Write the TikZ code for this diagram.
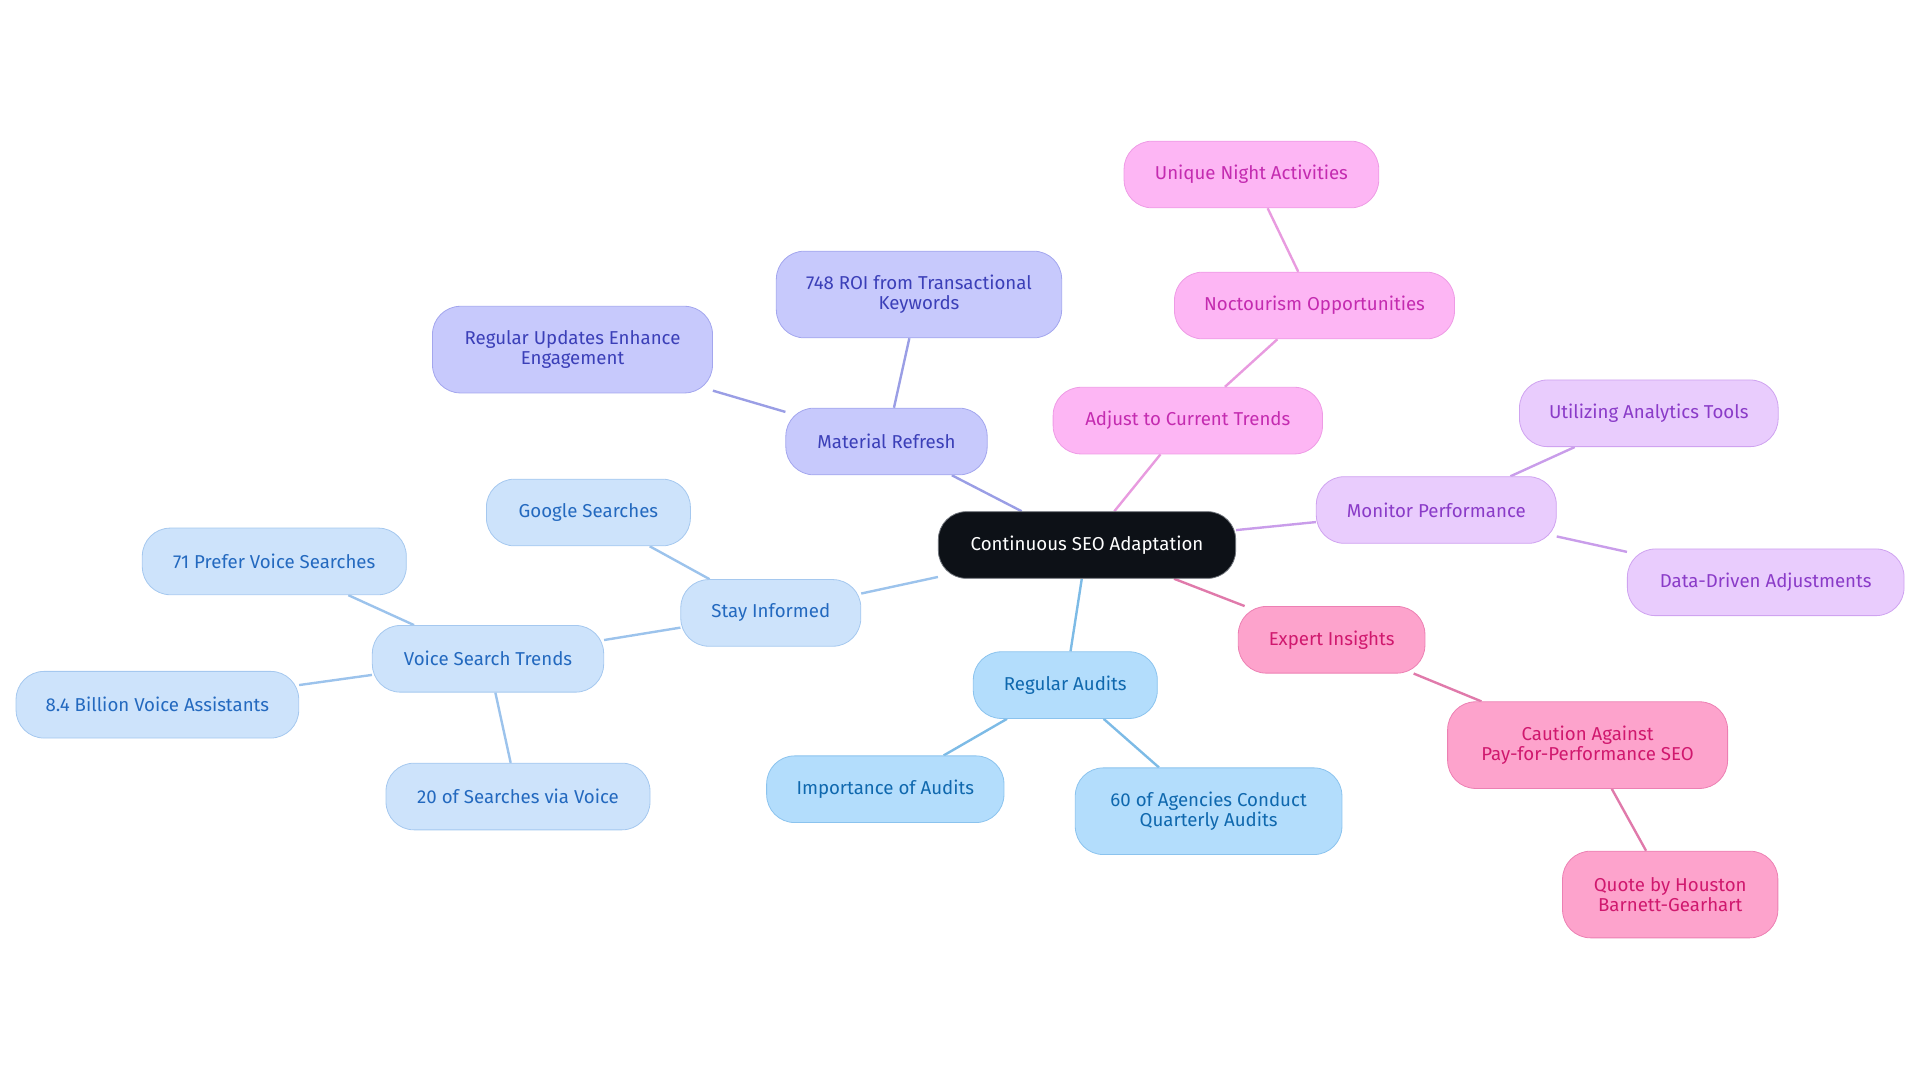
\documentclass[tikz,border=0pt]{standalone}
\usepackage{fontspec}
\setmainfont{Fira Sans}
\usetikzlibrary{backgrounds}
\definecolor{rootfill}{HTML}{0D1117}
\definecolor{rootdraw}{HTML}{6E737A}
\definecolor{refreshfill}{HTML}{C7C9FC}
\definecolor{refreshdraw}{HTML}{A3A6EE}
\definecolor{refreshtext}{HTML}{3B3FB8}
\definecolor{refreshline}{HTML}{9A9EE5}
\definecolor{trendfill}{HTML}{FDB6F4}
\definecolor{trenddraw}{HTML}{EE9BE5}
\definecolor{trendtext}{HTML}{C42BB0}
\definecolor{trendline}{HTML}{E89BDF}
\definecolor{monitorfill}{HTML}{E9CCFD}
\definecolor{monitordraw}{HTML}{CFA3F0}
\definecolor{monitortext}{HTML}{8A3BC8}
\definecolor{monitorline}{HTML}{C99DEA}
\definecolor{expertfill}{HTML}{FDA3CC}
\definecolor{expertdraw}{HTML}{EC80B3}
\definecolor{experttext}{HTML}{D0186E}
\definecolor{expertline}{HTML}{E07AAB}
\definecolor{auditfill}{HTML}{B3DDFC}
\definecolor{auditdraw}{HTML}{8BC3EE}
\definecolor{audittext}{HTML}{0F68AE}
\definecolor{auditline}{HTML}{7DBBE6}
\definecolor{informfill}{HTML}{CDE3FB}
\definecolor{informdraw}{HTML}{A5C8EF}
\definecolor{informtext}{HTML}{2369BF}
\definecolor{informline}{HTML}{9CC3EC}

\begin{document}
\begin{tikzpicture}[x=0.75pt, y=-0.75pt,
    mm/.style={draw, rounded corners=21pt, line width=0.6pt, align=center,
        minimum height=50pt, inner sep=0pt, font=\fontsize{14}{15}\selectfont},
    tall/.style={minimum height=65pt},
    rootnode/.style={mm, fill=rootfill, draw=rootdraw, text=white},
    refresh/.style={mm, fill=refreshfill, draw=refreshdraw, text=refreshtext},
    trend/.style={mm, fill=trendfill, draw=trenddraw, text=trendtext},
    monitor/.style={mm, fill=monitorfill, draw=monitordraw, text=monitortext},
    expert/.style={mm, fill=expertfill, draw=expertdraw, text=experttext},
    audit/.style={mm, fill=auditfill, draw=auditdraw, text=audittext},
    inform/.style={mm, fill=informfill, draw=informdraw, text=informtext},
    link/.style={line width=1.8pt},
]
    \useasboundingbox (0, 0) rectangle (1920, 1083);

    % centre
    \node[rootnode, minimum width=223pt] (root) at (1087, 545) {Continuous SEO Adaptation};

    % material refresh
    \node[refresh, minimum width=151pt] (refresh) at (886.5, 441.5) {Material Refresh};
    \node[refresh, tall, minimum width=214pt] (roi) at (919, 294.5) {748 ROI from Transactional\\Keywords};
    \node[refresh, tall, minimum width=210pt] (updates) at (572.5, 349.6) {Regular Updates Enhance\\Engagement};

    % current trends
    \node[trend, minimum width=202pt] (trends) at (1187.8, 420.6) {Adjust to Current Trends};
    \node[trend, minimum width=210pt] (nocto) at (1314.5, 305.5) {Noctourism Opportunities};
    \node[trend, minimum width=191pt] (night) at (1251.4, 174.5) {Unique Night Activities};

    % monitor performance
    \node[monitor, minimum width=180pt] (monitor) at (1436.3, 510) {Monitor Performance};
    \node[monitor, minimum width=194pt] (analytics) at (1648.8, 413.3) {Utilizing Analytics Tools};
    \node[monitor, minimum width=207.5pt] (datadriven) at (1765.7, 582.3) {Data-Driven Adjustments};

    % expert insights
    \node[expert, minimum width=140pt] (expert) at (1331.6, 639.8) {Expert Insights};
    \node[expert, tall, minimum width=210pt] (caution) at (1587.6, 745.1) {Caution Against\\Pay-for-Performance SEO};
    \node[expert, tall, minimum width=161.5pt] (quote) at (1670.2, 894.5) {Quote by Houston\\Barnett-Gearhart};

    % regular audits
    \node[audit, minimum width=138pt] (audits) at (1065.3, 685.1) {Regular Audits};
    \node[audit, minimum width=178pt] (importance) at (885.3, 789.2) {Importance of Audits};
    \node[audit, tall, minimum width=200pt] (agencies) at (1208.6, 811.2) {60 of Agencies Conduct\\Quarterly Audits};

    % stay informed
    \node[inform, minimum width=135pt] (stay) at (770.8, 612.9) {Stay Informed};
    \node[inform, minimum width=153pt] (google) at (588.4, 512.5) {Google Searches};
    \node[inform, minimum width=173.5pt] (voice) at (488, 658.8) {Voice Search Trends};
    \node[inform, minimum width=198pt] (prefer) at (274.3, 561.4) {71 Prefer Voice Searches};
    \node[inform, minimum width=212pt] (billion) at (157.4, 704.7) {8.4 Billion Voice Assistants};
    \node[inform, minimum width=198pt] (twenty) at (518, 796.5) {20 of Searches via Voice};

    \begin{scope}[on background layer]
        \draw[link, refreshline] (root) -- (refresh) (refresh) -- (roi) (refresh) -- (updates);
        \draw[link, trendline] (root) -- (trends) (trends) -- (nocto) (nocto) -- (night);
        \draw[link, monitorline] (root) -- (monitor) (monitor) -- (analytics) (monitor) -- (datadriven);
        \draw[link, expertline] (root) -- (expert) (expert) -- (caution) (caution) -- (quote);
        \draw[link, auditline] (root) -- (audits) (audits) -- (importance) (audits) -- (agencies);
        \draw[link, informline] (root) -- (stay) (stay) -- (google) (stay) -- (voice)
            (voice) -- (prefer) (voice) -- (billion) (voice) -- (twenty);
    \end{scope}
\end{tikzpicture}
\end{document}
